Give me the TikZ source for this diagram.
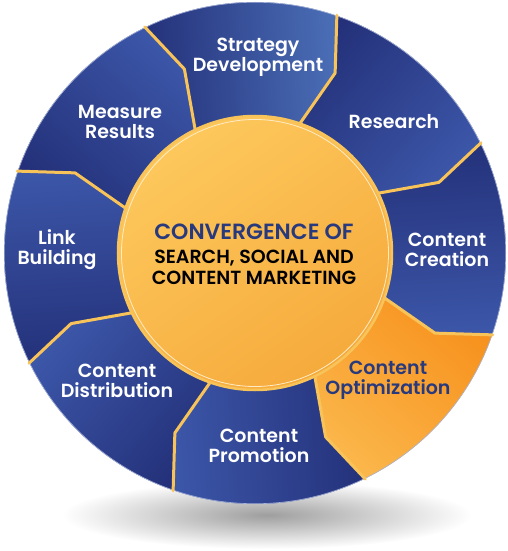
\documentclass[tikz,border=0pt]{standalone}
\usepackage{fontspec}
\setmainfont{Poppins}[BoldFont={Poppins SemiBold}]
\usetikzlibrary{calc,positioning}
\definecolor{RingDark}{RGB}{36,49,122}
\definecolor{RingLight}{RGB}{60,86,168}
\definecolor{TopLight}{RGB}{74,110,182}
\definecolor{HubLight}{RGB}{253,200,92}
\definecolor{HubDark}{RGB}{246,170,60}
\definecolor{OptDark}{RGB}{247,146,30}
\definecolor{OptLight}{RGB}{251,182,74}
\definecolor{Rim}{RGB}{248,196,90}
\definecolor{Navy}{RGB}{40,58,125}

\begin{document}
\begin{tikzpicture}[x=1pt,y=1pt,
  lbl/.style={align=center,text=white,font=\fontsize{19}{20}\selectfont\bfseries},
  hubtxt/.style={font=\fontsize{19}{21}\selectfont\bfseries,inner sep=0pt,anchor=base},
  divider/.style={Rim,line width=3pt,line join=round,line cap=round}]
\useasboundingbox (-255,-298) rectangle (253,253);
% shadow under the wheel
\shade[inner color=black!38,outer color=white] (12,-262) ellipse[x radius=205,y radius=34];
% ring segments, clockwise from the top one
\foreach \a/\cd/\cl in {116/RingDark/TopLight,71/RingDark/RingLight,26/RingDark/RingLight,-19/OptDark/OptLight,-64/RingDark/RingLight,-109/RingDark/RingLight,-154/RingDark/RingLight,161/RingDark/RingLight}{
  \pgfmathsetmacro\sa{\a-22.5-180}
  \shade[bottom color=\cd,top color=\cl,shading angle=\sa] (\a:137)--({\a-5}:197)--(\a:251) arc[start angle=\a,end angle=\a-45,radius=251]--({\a-50}:197)--({\a-45}:137) arc[start angle=\a-45,end angle=\a,radius=137]--cycle;}
\draw[white!55!RingLight,line width=0.6pt] (0,0) circle[radius=250.7];
\foreach \a in {116,71,26,-19,-64,-109,-154,161}
  \draw[divider] (\a:136)--({\a-5}:197)--(\a:251.5);
% hub
\shade[top color=HubLight,bottom color=HubDark,shading angle=35] (0,0) circle[radius=137];
\draw[Rim,line width=2.5pt] (0,0) circle[radius=137];
\draw[white!65!HubLight,line width=0.8pt] (0,0) circle[radius=133.5];
\node[hubtxt,text=Navy,font=\fontsize{22}{24}\selectfont\bfseries] (conv) at (-1,13) {CONVERGENCE OF};
\node[hubtxt] (srch) at (-1,-10) {SEARCH, SOCIAL AND};
\node[hubtxt] (cmkt) at (-1,-31) {CONTENT MARKETING};
% segment labels
\node[lbl] (strat) at (3,196) {Strategy\\Development};
\node[lbl] (res) at (139,131) {Research};
\node[lbl] (crea) at (192,3) {Content\\Creation};
\node[lbl,text=Navy] (opt) at (133,-127) {Content\\Optimization};
\node[lbl] (prom) at (4,-193) {Content\\Promotion};
\node[lbl] (dist) at (-138,-128) {Content\\Distribution};
\node[lbl] (link) at (-198,3) {Link\\Building};
\node[lbl] (meas) at (-135,131) {Measure\\Results};
\end{tikzpicture}
\end{document}
